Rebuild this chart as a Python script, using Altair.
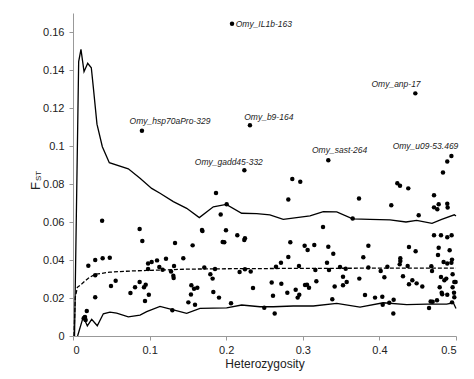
import altair as alt
import pandas as pd

# ---- scatter points (heterozygosity, Fst) ----
px = [0.2076, 0.090, 0.231, 0.2237, 0.3333, 0.4469, 0.494, 0.4886, 0.483,
      0.038, 0.087, 0.0905, 0.020, 0.029, 0.0387, 0.048, 0.029, 0.0496, 0.0557, 0.029, 0.018, 0.0157, 0.0165, 0.014,
      0.075, 0.081, 0.087, 0.0927, 0.0949, 0.094, 0.099, 0.098, 0.1027, 0.1097, 0.1214, 0.098, 0.1127, 0.117,
      0.1867, 0.2006, 0.1928, 0.1684, 0.1690, 0.1997, 0.2145, 0.2245, 0.2236, 0.1954, 0.1975, 0.1332, 0.1562, 0.144,
      0.1319, 0.128, 0.131, 0.1314, 0.1714, 0.1854, 0.1793, 0.1823, 0.2175, 0.2245, 0.232, 0.1545, 0.158, 0.1623,
      0.154, 0.1832, 0.1906, 0.235, 0.1506, 0.1593, 0.2063, 0.1297,
      0.2863, 0.2967, 0.2811, 0.3734, 0.3651, 0.3264, 0.2837, 0.3024, 0.3063, 0.315, 0.3333, 0.3398, 0.2811, 0.2715,
      0.265, 0.295, 0.3316, 0.3342, 0.3164, 0.3486, 0.356, 0.3525, 0.3738, 0.2594, 0.272, 0.3177, 0.3573, 0.3525,
      0.3416, 0.3029, 0.3055, 0.3081, 0.2907, 0.2798, 0.2611, 0.2954, 0.2933, 0.3385, 0.2497, 0.2633,
      0.4234, 0.4269, 0.4377, 0.4155, 0.4713, 0.4713, 0.4756, 0.4774, 0.4886, 0.4891, 0.4513, 0.4713, 0.4804, 0.4886,
      0.4943, 0.3856, 0.4386, 0.4473, 0.4774, 0.4765, 0.4917, 0.379, 0.4273, 0.4273, 0.4838, 0.4886, 0.4948, 0.494,
      0.3856, 0.4104, 0.4265, 0.4369, 0.4678, 0.4687, 0.4017, 0.4065, 0.4308, 0.443, 0.4386, 0.4486, 0.456, 0.4804,
      0.4848, 0.4873, 0.4956, 0.4978, 0.4995, 0.4956, 0.4787, 0.4813, 0.4886, 0.482, 0.4974, 0.4978, 0.3812, 0.3943,
      0.4038, 0.4043, 0.4129, 0.4186, 0.4182, 0.4669, 0.4695, 0.4752, 0.4648, 0.4948]
py = [0.1644, 0.108, 0.1109, 0.0872, 0.0925, 0.1277, 0.0947, 0.0918, 0.0861,
      0.0607, 0.0563, 0.050, 0.037, 0.040, 0.0409, 0.0412, 0.032, 0.0263, 0.0291, 0.0204, 0.0132, 0.0100, 0.0084, 0.0093,
      0.0226, 0.0256, 0.0284, 0.0256, 0.027, 0.0184, 0.0217, 0.0382, 0.039, 0.0398, 0.0407, 0.0353, 0.0363, 0.0349,
      0.0753, 0.0693, 0.064, 0.0558, 0.0552, 0.0556, 0.053, 0.0514, 0.0505, 0.0495, 0.0493, 0.049, 0.0477, 0.0409,
      0.0368, 0.034, 0.0317, 0.0305, 0.0361, 0.0353, 0.0325, 0.0302, 0.0337, 0.0351, 0.034, 0.0267, 0.0249, 0.0254,
      0.0219, 0.0232, 0.0202, 0.0253, 0.0177, 0.0165, 0.0172, 0.0135,
      0.0826, 0.0812, 0.0719, 0.0724, 0.0619, 0.0574, 0.0493, 0.0475, 0.0453, 0.0479, 0.047, 0.0433, 0.0416, 0.0386,
      0.0365, 0.0368, 0.0386, 0.0347, 0.0347, 0.0363, 0.0354, 0.0312, 0.0302, 0.0281, 0.0275, 0.0288, 0.0284, 0.0267,
      0.0261, 0.0268, 0.027, 0.0254, 0.0244, 0.0228, 0.0212, 0.0217, 0.0202, 0.0193, 0.0149, 0.0119,
      0.0804, 0.0791, 0.0777, 0.0688, 0.0741, 0.0677, 0.0667, 0.0693, 0.0696, 0.0676, 0.0635, 0.053, 0.053, 0.052,
      0.053, 0.0475, 0.0468, 0.0446, 0.0465, 0.0426, 0.0451, 0.0414, 0.0409, 0.0395, 0.039, 0.0381, 0.0402, 0.0386,
      0.036, 0.0365, 0.0377, 0.0368, 0.0367, 0.0342, 0.0342, 0.0309, 0.0314, 0.0293, 0.0272, 0.0277, 0.026, 0.0311,
      0.0293, 0.0302, 0.0325, 0.0284, 0.0284, 0.0256, 0.0256, 0.0228, 0.0217, 0.022, 0.0228, 0.0204, 0.0216, 0.0202,
      0.0207, 0.0165, 0.0175, 0.0191, 0.0119, 0.0181, 0.018, 0.0188, 0.0147, 0.0177]

# ---- upper quantile line ----
ux = [0.002, 0.0074, 0.0104, 0.0144, 0.0192, 0.0239, 0.0265, 0.0313, 0.0383, 0.0474, 0.0722, 0.0875, 0.1027,
      0.1136, 0.131, 0.1484, 0.1649, 0.1832, 0.2001, 0.2202, 0.2398, 0.257, 0.2745, 0.3094, 0.3268, 0.3443,
      0.3651, 0.3877, 0.4138, 0.4347, 0.4486, 0.4687, 0.4813, 0.4978, 0.5]
uy = [0.0, 0.1444, 0.1509, 0.1391, 0.1435, 0.1412, 0.131, 0.1115, 0.0996, 0.0912, 0.0880, 0.083, 0.0777,
      0.0751, 0.0707, 0.0672, 0.0623, 0.068, 0.0693, 0.0646, 0.0644, 0.0637, 0.0614, 0.0632, 0.0654, 0.0653,
      0.0616, 0.0614, 0.0611, 0.06, 0.0609, 0.0593, 0.0614, 0.0638, 0.0632]

# ---- lower quantile line ----
lx = [0.006, 0.0135, 0.0187, 0.0244, 0.0317, 0.0396, 0.0483, 0.057, 0.0722, 0.0875, 0.0962, 0.1136, 0.131,
      0.1484, 0.1658, 0.2006, 0.2202, 0.2441, 0.2615, 0.2876, 0.3137, 0.3443, 0.3747, 0.4051, 0.4356, 0.4618,
      0.4878, 0.4965, 0.5]
ly = [0.0, 0.0102, 0.0053, 0.0088, 0.0054, 0.0117, 0.0126, 0.012, 0.0101, 0.011, 0.0128, 0.0156, 0.0137,
      0.0119, 0.0145, 0.0148, 0.0163, 0.0154, 0.0154, 0.0158, 0.0158, 0.0172, 0.0152, 0.0175, 0.0165, 0.0168,
      0.0168, 0.0175, 0.0145]

# ---- median (dashed) line ----
mx = [0.0013, 0.003, 0.0057, 0.0113, 0.02, 0.0287, 0.0483, 0.0744, 0.0962, 0.1136, 0.15, 0.2, 0.3, 0.4, 0.5]
my = [0.0, 0.0204, 0.0256, 0.0274, 0.0304, 0.0325, 0.0336, 0.0342, 0.0345, 0.0347, 0.0352, 0.0354, 0.0356,
      0.0357, 0.0357]

# ---- locus labels ----
lab_text = ["Omy_hsp70aPro-329", "Omy_b9-164", "Omy_gadd45-332", "Omy_sast-264", "Omy_anp-17",
            "Omy_u09-53.469"]
lab_x = [0.1266, 0.2556, 0.2034, 0.3481, 0.4217, 0.4602]
lab_y = [0.1133, 0.1151, 0.0914, 0.0977, 0.1325, 0.1000]
il_text = ["Omy_IL1b-163"]
il_x = [0.2124]
il_y = [0.1644]

FONT = "Liberation Sans"

xs = alt.Scale(domain=[0, 0.5], nice=False, zero=False)
ys = alt.Scale(domain=[0, 0.17], nice=False)

x_axis = alt.Axis(values=[0, 0.1, 0.2, 0.3, 0.4, 0.5], format="~g", title="Heterozygosity")
y_axis = alt.Axis(values=[0, 0.02, 0.04, 0.06, 0.08, 0.1, 0.12, 0.14, 0.16], format="~g", title=None)

pts = pd.DataFrame({"h": px, "f": py})
points = alt.Chart(pts).mark_circle(size=20, color="black", opacity=1).encode(
    x=alt.X("h:Q", scale=xs, axis=x_axis),
    y=alt.Y("f:Q", scale=ys, axis=y_axis),
)

def line(xv, yv, dash=None):
    df = pd.DataFrame({"h": xv, "f": yv})
    kw = dict(color="black", strokeWidth=1.3)
    if dash:
        kw["strokeDash"] = dash
    return alt.Chart(df).mark_line(**kw).encode(
        x=alt.X("h:Q", scale=xs), y=alt.Y("f:Q", scale=ys), order="h:Q")

upper = line(ux, uy)
lower = line(lx, ly)
median = line(mx, my, [4, 2])

labdf = pd.DataFrame({"h": lab_x, "f": lab_y, "t": lab_text})
labels = alt.Chart(labdf).mark_text(font=FONT, fontSize=8.5, fontStyle="italic", color="#222",
                                    align="center", baseline="middle").encode(
    x=alt.X("h:Q", scale=xs), y=alt.Y("f:Q", scale=ys), text="t:N")

ildf = pd.DataFrame({"h": il_x, "f": il_y, "t": il_text})
il_label = alt.Chart(ildf).mark_text(font=FONT, fontSize=8.5, fontStyle="italic", color="#222",
                                     align="left", baseline="middle").encode(
    x=alt.X("h:Q", scale=xs), y=alt.Y("f:Q", scale=ys), text="t:N")

ytitle_f = alt.Chart(pd.DataFrame({"t": ["F"]})).mark_text(
    font=FONT, fontSize=13, angle=270, color="#222", align="center", baseline="middle").encode(
    x=alt.value(-37), y=alt.value(173), text="t:N")
ytitle_st = alt.Chart(pd.DataFrame({"t": ["ST"]})).mark_text(
    font=FONT, fontSize=8, angle=270, color="#222", align="center", baseline="middle").encode(
    x=alt.value(-34), y=alt.value(163), text="t:N")

chart = alt.layer(upper, lower, median, points, labels, il_label, ytitle_f, ytitle_st).properties(
    width=383, height=323,
    autosize=alt.AutoSizeParams(type="none"),
    padding={"left": 65, "top": 5, "right": 10, "bottom": 35},
).configure_view(stroke=None).configure_axis(
    grid=False, domainColor="#999", tickColor="#999", tickSize=4,
    labelFont=FONT, labelFontSize=11, labelColor="#222", labelPadding=4,
    titleFont=FONT, titleFontSize=12, titleFontWeight="normal", titleColor="#222", titlePadding=3,
).configure_axisY(labelPadding=5)

chart.save("out.html", embed_options={"renderer": "svg", "actions": False})
